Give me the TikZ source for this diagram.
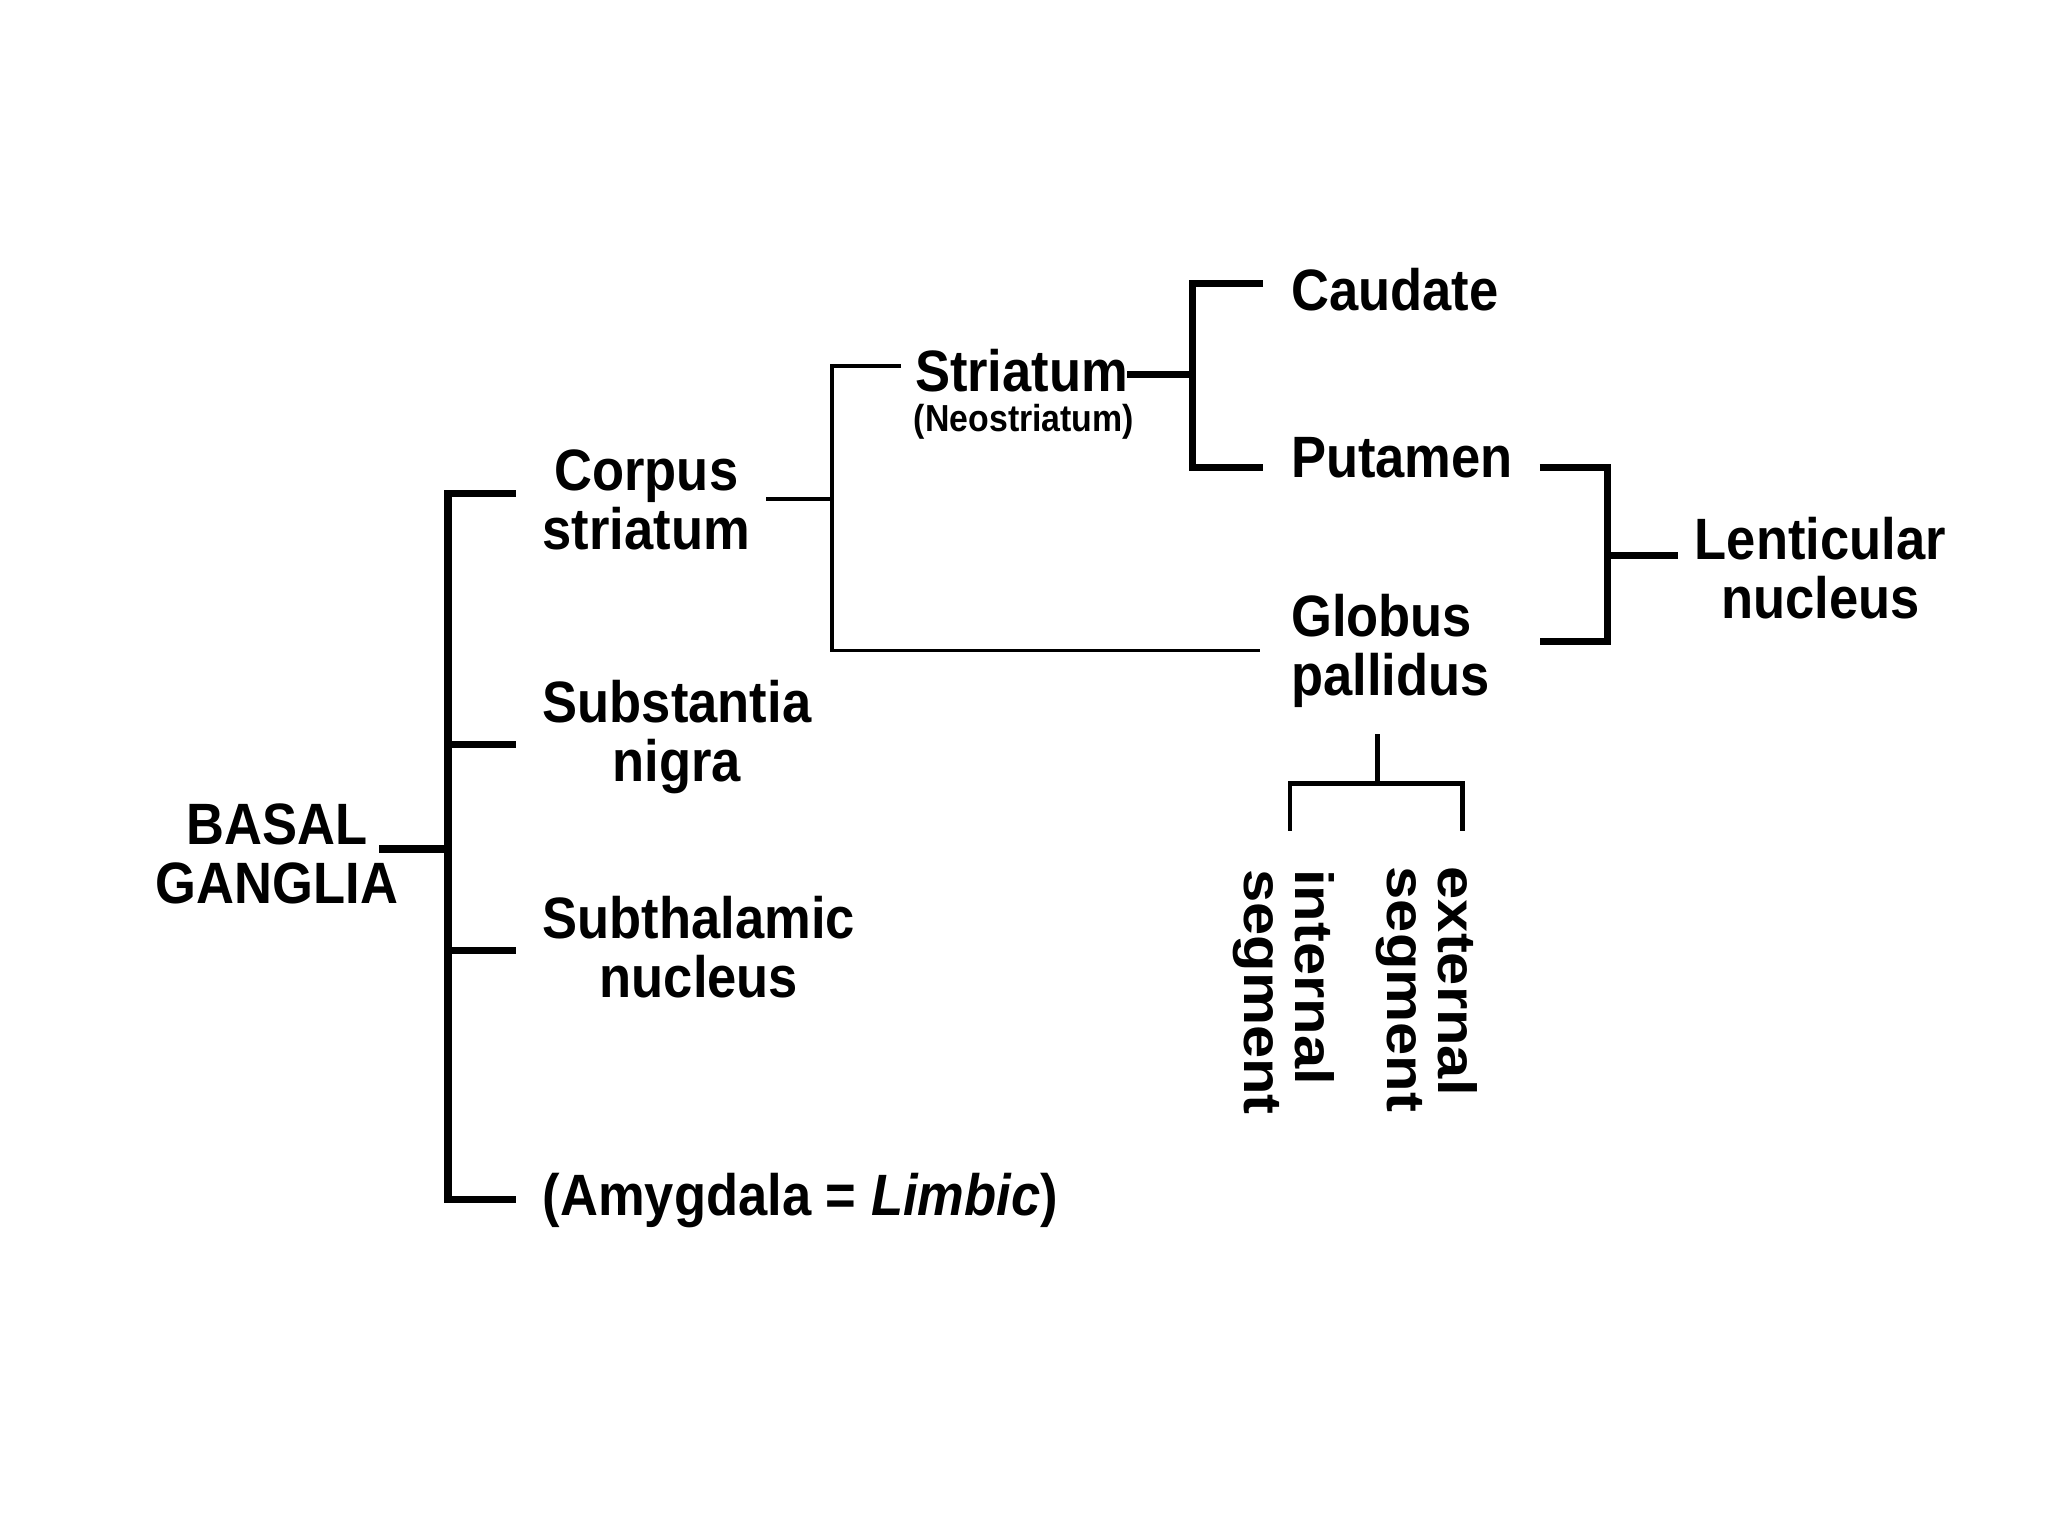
\documentclass[tikz,border=0pt]{standalone}
\usepackage{fontspec}
\setmainfont{Liberation Sans}[FakeStretch=0.9]
\newfontfamily\segfont{Liberation Sans}[FakeStretch=1.11]
\tikzset{
    lbl/.style={font=\bfseries\fontsize{16.6}{16.8}\selectfont, inner sep=0pt, align=center},
    smalllbl/.style={font=\bfseries\fontsize{10.7}{11}\selectfont, inner sep=0pt},
    seglbl/.style={font=\segfont\bfseries\fontsize{15.3}{14.5}\selectfont, inner sep=0pt,
        align=left, rotate=-90, anchor=north west},
    thickln/.style={line width=2pt},
    thinln/.style={line width=1.1pt},
    segln/.style={line width=1.3pt},
}
\begin{document}
\begin{tikzpicture}[x=0.1306mm, y=-0.1306mm]
    \useasboundingbox (0,0) rectangle (1568,1176);

    % linke Spalte
    \node[lbl] (basal) at (212,654) {BASAL\\GANGLIA};
    \node[lbl, anchor=west] (corpus) at (415,383) {Corpus\\striatum};
    \node[lbl, anchor=west] (nigra) at (415,564) {Substantia\\nigra};
    \node[lbl, anchor=west] (subthal) at (415,725) {Subthalamic\\nucleus};
    \node[lbl, anchor=west] (amyg) at (415,919) {(Amygdala = \textit{Limbic})};

    % Striatum und Kerne
    \node[lbl, anchor=west] (striatum) at (700,283.5) {Striatum};
    \node[smalllbl] (neo) at (784,323) {(Neostriatum)};
    \node[lbl, anchor=west] (caudate) at (988,222) {Caudate};
    \node[lbl, anchor=west] (putamen) at (988,350.5) {Putamen};
    \node[lbl, anchor=west, align=left] (globus) at (988,498) {Globus\\pallidus};
    \node[lbl, anchor=west] (lent) at (1297,435) {Lenticular\\nucleus};

    % Segmente (gedreht)
    \node[seglbl] (internal) at (1022,665) {internal\\segment};
    \node[seglbl] (external) at (1132,663) {external\\segment};

    % Hauptklammer
    \draw[thickln] ([shift={(-15,-4)}]basal.east) -- ++(53,0);
    \draw[thickln] ([shift={(-20,-5)}]corpus.west) -| ([shift={(-72,-1)}]amyg.west)
        -- ([shift={(-20,-1)}]amyg.west);
    \draw[thickln] ([shift={(-20,6)}]nigra.west) -- ++(-52,0);
    \draw[thickln] ([shift={(-20,3)}]subthal.west) -- ++(-52,0);

    % Corpus striatum -> Striatum / Globus pallidus
    \draw[thinln] ([shift={(12,-1)}]corpus.east) -- ++(51,0);
    \draw[thinln] ([shift={(-10,-3.5)}]striatum.west) -| ([shift={(-351,0)}]globus.west)
        -- ([shift={(-23,0)}]globus.west);

    % Striatum -> Caudate / Putamen
    \draw[thickln] ([shift={(-1,3.5)}]striatum.east) -- ++(51,0);
    \draw[thickln] ([shift={(-21,-5)}]caudate.west) -| ([shift={(-75,7.5)}]putamen.west)
        -- ([shift={(-21,7.5)}]putamen.west);

    % Lenticular nucleus
    \draw[thickln] ([shift={(20,7.5)}]putamen.east) -| ([shift={(90,-7)}]globus.east)
        -- ([shift={(38,-7)}]globus.east);
    \draw[thickln] ([shift={(-67,-10)}]lent.west) -- ([shift={(-12,-10)}]lent.west);

    % Globus pallidus -> Segmente
    \draw[segln] ([shift={(-10,20)}]globus.south) -- ++(0,38);
    \draw[segln] ([shift={(5,-29)}]internal.west) |- ([shift={(27,-63)}]external.west)
        -- ([shift={(27,-27)}]external.west);
\end{tikzpicture}
\end{document}
